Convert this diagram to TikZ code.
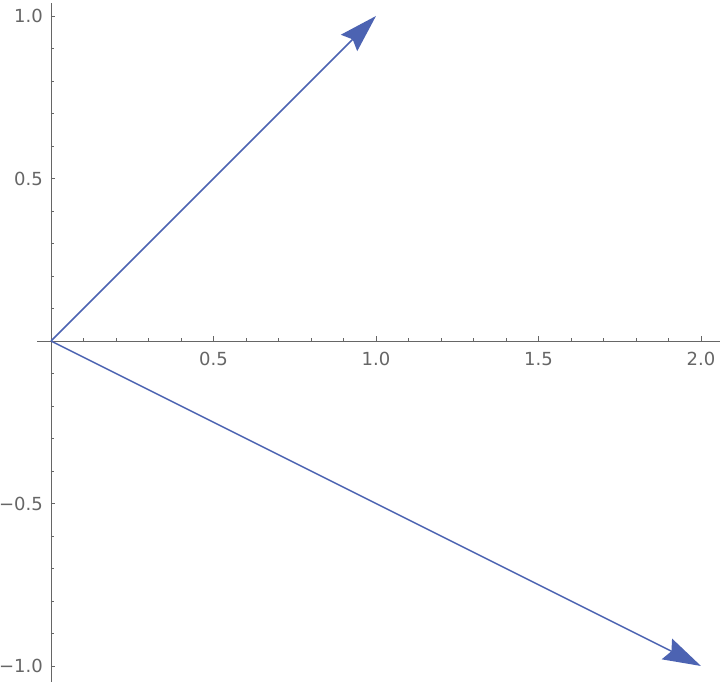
\documentclass[tikz,border=0pt]{standalone}
\usepackage{fontspec}
\setmainfont{DejaVu Sans}
\usetikzlibrary{arrows.meta}
\definecolor{axisgray}{RGB}{102,102,102}
\definecolor{vecblue}{RGB}{76,99,178}
\tikzset{
  axisline/.style={draw=axisgray, line width=0.9pt},
  ticklbl/.style={text=axisgray, font=\fontsize{18}{18}\selectfont, inner sep=0pt},
  vecarrow/.style={draw=vecblue, line width=1.5pt, -{Stealth[length=38pt, width=23pt, inset=5pt, fill=vecblue]}}
}
\begin{document}
\begin{tikzpicture}[x=325pt, y=325pt]
\useasboundingbox (-0.1569,-1.0492) rectangle (2.0585,1.0492);
\fill[white] (-0.1569,-1.0492) rectangle (2.0585,1.0492);
% axes
\draw[axisline] (-0.043,0) -- (2.0585,0);
\draw[axisline] (0,-1.0492) -- (0,1.04);
% x ticks
\foreach \i in {1,...,20}{
  \pgfmathsetmacro{\xx}{\i/10}
  \pgfmathtruncatemacro{\m}{mod(\i,5)}
  \ifnum\m=0
    \draw[axisline] (\xx,0) -- ++(0,4.5pt);
  \else
    \draw[axisline] (\xx,0) -- ++(0,2.7pt);
  \fi
}
% y ticks
\foreach \i in {-10,...,10}{
  \ifnum\i=0\relax\else
  \pgfmathsetmacro{\yy}{\i/10}
  \pgfmathtruncatemacro{\m}{mod(abs(\i),5)}
  \ifnum\m=0
    \draw[axisline] (0,\yy) -- ++(4.5pt,0);
  \else
    \draw[axisline] (0,\yy) -- ++(2.7pt,0);
  \fi
  \fi
}
% labels
\node[ticklbl] (x05) at (0.5,-0.0554) {0.5};
\node[ticklbl] (x10) at (1.0,-0.0554) {1.0};
\node[ticklbl] (x15) at (1.5,-0.0554) {1.5};
\node[ticklbl] (x20) at (2.0,-0.0554) {2.0};
\node[ticklbl, anchor=east] (y10) at (-0.0246,1.0) {1.0};
\node[ticklbl, anchor=east] (y05) at (-0.0246,0.5) {0.5};
\node[ticklbl, anchor=east] (ym05) at (-0.0246,-0.5) {\symbol{"2212}0.5};
\node[ticklbl, anchor=east] (ym10) at (-0.0246,-1.0) {\symbol{"2212}1.0};
% vectors
\coordinate (O) at (0,0);
\coordinate (A) at (1,1);
\coordinate (B) at (2,-1);
\draw[vecarrow] (O) -- (A);
\draw[vecarrow] (O) -- (B);
\end{tikzpicture}
\end{document}
